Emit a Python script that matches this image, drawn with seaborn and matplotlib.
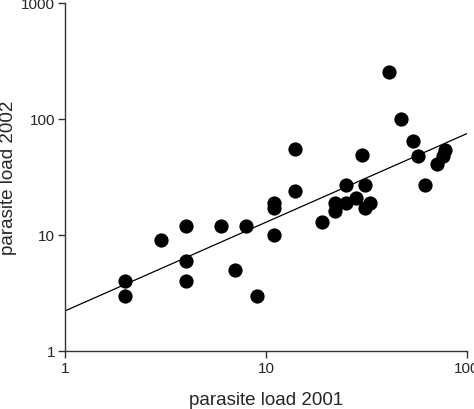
import numpy as np
import pandas as pd
import seaborn as sns
import matplotlib.pyplot as plt

# data
load_2001 = [2, 2, 3, 4, 4, 4, 6, 7, 8, 9, 11, 11, 11, 14, 14, 19, 22, 22, 25, 25,
             28, 30, 31, 31, 33, 41, 47, 54, 57, 62, 71, 76, 78]
load_2002 = [4, 3, 9, 12, 6, 4, 12, 5, 12, 3, 19, 17, 10, 55, 24, 13, 19, 16, 27, 19,
             21, 49, 27, 17, 19, 255, 100, 65, 48, 27, 41, 48, 54]

df = pd.DataFrame({"x": load_2001, "y": load_2002})

sns.set_style("ticks")
plt.rcParams['font.family'] = ['Liberation Sans', 'DejaVu Sans']

fig = plt.figure(figsize=(4.74, 4.10), dpi=100)
ax = fig.add_axes([0.137, 0.1415, 0.848, 0.849])

sns.scatterplot(data=df, x="x", y="y", color="black", s=105, linewidth=0, ax=ax)

# fitted power line (log-log regression)
slope, icpt = np.polyfit(np.log10(df["x"]), np.log10(df["y"]), 1)
xs = np.array([1, 100])
ax.plot(xs, 10 ** icpt * xs ** slope, color="black", lw=0.9)

ax.set_xscale("log")
ax.set_yscale("log")
ax.set_xlim(1, 100)
ax.set_ylim(1, 1000)
ax.set_xticks([1, 10, 100])
ax.set_xticklabels(["1", "10", "100"])
ax.set_yticks([1, 10, 100, 1000])
ax.set_yticklabels(["1", "10", "100", "1000"])
ax.minorticks_off()
ax.tick_params(labelsize=11, length=5, width=1, color="#333333", pad=2)
for s in ["left", "bottom"]:
    ax.spines[s].set_linewidth(1)
    ax.spines[s].set_color("#333333")
sns.despine(ax=ax)

ax.set_xlabel("parasite load 2001", fontsize=13.5, labelpad=12)
ax.set_ylabel("parasite load 2002", fontsize=13.5, labelpad=3)

fig.savefig("out.png", dpi=100)
